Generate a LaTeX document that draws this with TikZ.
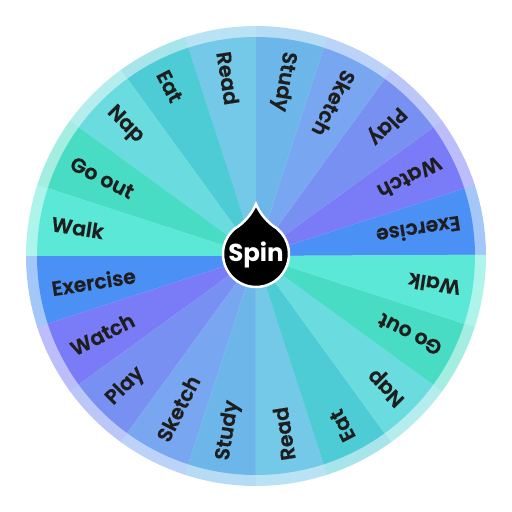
\documentclass[tikz,border=0pt]{standalone}
\usepackage{fontspec}
\setmainfont{Poppins}[BoldFont={Poppins SemiBold}]
\newfontfamily\spinfont{Poppins}[UprightFont={Poppins Bold}]
\newfontfamily\labfont{Poppins}[UprightFont={Poppins SemiBold}, FakeBold=0.6]
\definecolor{cEx}{HTML}{4A90F5}
\definecolor{cWa}{HTML}{7A7CF7}
\definecolor{cPl}{HTML}{7890F2}
\definecolor{cSk}{HTML}{78A6F0}
\definecolor{cSt}{HTML}{6CB6EA}
\definecolor{cRe}{HTML}{74C8E8}
\definecolor{cEa}{HTML}{4ECCD6}
\definecolor{cNa}{HTML}{6ADCE0}
\definecolor{cGo}{HTML}{48DCC4}
\definecolor{cWk}{HTML}{5CE8D6}
\definecolor{labtext}{HTML}{1E1E1E}
\tikzset{
  lab/.style={text=labtext, font=\labfont\fontsize{20.5}{22}\selectfont, inner sep=0pt, anchor=west},
  spinlabel/.style={text=white, font=\spinfont\fontsize{24.5}{26}\selectfont, inner sep=0pt}
}
\begin{document}
\begin{tikzpicture}[x=1pt,y=1pt]
\useasboundingbox (-256,-256) rectangle (256,256);
\foreach \i/\lbl/\col in {0/Exercise/cEx,1/Watch/cWa,2/Play/cPl,3/Sketch/cSk,4/Study/cSt,5/Read/cRe,6/Eat/cEa,7/Nap/cNa,8/Go out/cGo,9/Walk/cWk,10/Exercise/cEx,11/Watch/cWa,12/Play/cPl,13/Sketch/cSk,14/Study/cSt,15/Read/cRe,16/Eat/cEa,17/Nap/cNa,18/Go out/cGo,19/Walk/cWk}{
  \pgfmathsetmacro\a{\i*18}
  \pgfmathsetmacro\b{\i*18+18.3}
  \pgfmathsetmacro\m{\i*18+9}
  \pgfmathsetmacro\r{\i*18+189}
  \fill[\col!50!white] (0,0) -- (\a:230) arc[start angle=\a, end angle=\b, radius=230] -- cycle;
  \fill[\col] (0,0) -- (\a:219) arc[start angle=\a, end angle=\b, radius=219] -- cycle;
  \node[lab, rotate=\r] (l\i) at (\m:207) {\lbl};
}
\path[draw=white, line width=2.5pt, fill=black] (0,52) .. controls (-4,42) and (-12,33) .. (-21.21,27.28) arc[start angle=130, end angle=410, radius=33] .. controls (12,33) and (4,42) .. cycle;
\node[spinlabel] (spin) at (0,1) {Spin};
\end{tikzpicture}
\end{document}
